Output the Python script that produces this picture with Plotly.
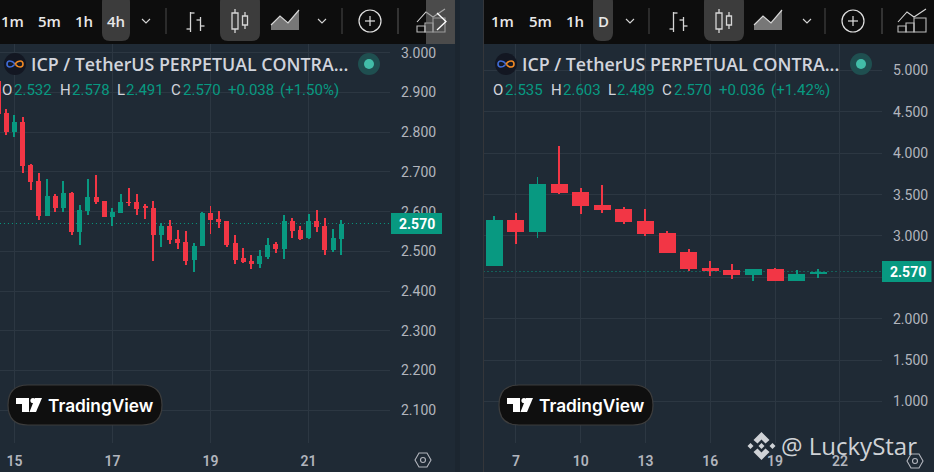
import plotly.graph_objects as go

W, H = 934, 472
BG = "#1f2a35"
GRID = "#2c3742"
GREEN = "#089981"
RED = "#f23645"
AXIS_TXT = "#b2b5bd"
TITLE_TXT = "#d1d4dc"

# ---------- 4h candles ----------
h4_slot = list(range(-2, 41))
h4_open = [2.929, 2.848, 2.801, 2.826, 2.718, 2.677, 2.589, 2.639, 2.609, 2.647, 2.549,
           2.602, 2.637, 2.627, 2.587, 2.597, 2.624, 2.624, 2.612, 2.609, 2.541, 2.564,
           2.531, 2.524, 2.478, 2.513, 2.597, 2.581, 2.576, 2.521, 2.483, 2.476, 2.468,
           2.486, 2.518, 2.506, 2.576, 2.554, 2.534, 2.576, 2.564, 2.503, 2.532]
h4_high = [2.935, 2.859, 2.843, 2.838, 2.720, 2.697, 2.682, 2.644, 2.677, 2.650, 2.617,
           2.682, 2.692, 2.627, 2.609, 2.644, 2.660, 2.644, 2.619, 2.627, 2.571, 2.579,
           2.554, 2.551, 2.521, 2.599, 2.614, 2.602, 2.576, 2.541, 2.508, 2.491, 2.503,
           2.534, 2.523, 2.591, 2.584, 2.564, 2.594, 2.604, 2.584, 2.556, 2.578]
h4_low = [2.840, 2.793, 2.788, 2.697, 2.655, 2.579, 2.589, 2.599, 2.599, 2.541, 2.516,
          2.592, 2.619, 2.587, 2.564, 2.597, 2.614, 2.592, 2.581, 2.476, 2.511, 2.519,
          2.506, 2.466, 2.448, 2.513, 2.544, 2.559, 2.511, 2.468, 2.471, 2.455, 2.458,
          2.481, 2.496, 2.481, 2.534, 2.529, 2.531, 2.549, 2.491, 2.498, 2.491]
h4_close = [2.846, 2.801, 2.826, 2.715, 2.675, 2.589, 2.639, 2.609, 2.647, 2.549, 2.604,
            2.637, 2.624, 2.587, 2.599, 2.624, 2.622, 2.607, 2.610, 2.541, 2.564, 2.529,
            2.521, 2.476, 2.513, 2.597, 2.579, 2.574, 2.516, 2.478, 2.473, 2.468, 2.488,
            2.516, 2.506, 2.576, 2.551, 2.531, 2.576, 2.561, 2.503, 2.534, 2.570]
h4_tick_slots = [0, 12, 24, 36]
h4_tick_labels = ["15", "17", "19", "21"]
h4_price_ticks = [3.0, 2.9, 2.8, 2.7, 2.6, 2.5, 2.4, 2.3, 2.2, 2.1]
h4_price_labels = ["3.000", "2.900", "2.800", "2.700", "2.600", "2.500", "2.400", "2.300", "2.200", "2.100"]

# ---------- daily candles ----------
d_slot = list(range(0, 16))
d_open = [2.637, 3.193, 3.048, 3.629, 3.532, 3.375, 3.326, 3.181, 3.036, 2.806, 2.612, 2.588, 2.528, 2.600, 2.455, 2.535]
d_high = [3.242, 3.278, 3.713, 4.088, 3.580, 3.616, 3.350, 3.326, 3.060, 2.842, 2.697, 2.661, 2.600, 2.612, 2.588, 2.603]
d_low = [2.637, 2.903, 2.976, 3.508, 3.266, 3.278, 3.145, 3.000, 2.794, 2.576, 2.516, 2.479, 2.455, 2.455, 2.455, 2.489]
d_close = [3.193, 3.048, 3.629, 3.520, 3.363, 3.314, 3.169, 3.024, 2.794, 2.601, 2.576, 2.528, 2.600, 2.455, 2.540, 2.570]
d_tick_slots = [1, 4, 7, 10, 13, 16]
d_tick_labels = ["7", "10", "13", "16", "19", "22"]
d_price_ticks = [5.0, 4.5, 4.0, 3.5, 3.0, 2.5, 2.0, 1.5, 1.0]
d_price_labels = ["5.000", "4.500", "4.000", "3.500", "3.000", "2.500", "2.000", "1.500", "1.000"]

last_price = 2.570
last_label = "2.570"


def colors(o, c):
    return [GREEN if b >= a else RED for a, b in zip(o, c)]


def candle_traces(slot, o, hi, lo, c, xa, ya, body_w, wick_w):
    col = colors(o, c)
    wick = go.Bar(x=slot, y=[a - b for a, b in zip(hi, lo)], base=lo, width=wick_w,
                  marker=dict(color=col, line=dict(width=0)), xaxis=xa, yaxis=ya, showlegend=False)
    bot = [min(a, b) for a, b in zip(o, c)]
    body = go.Bar(x=slot, y=[abs(a - b) for a, b in zip(o, c)], base=bot, width=body_w,
                  marker=dict(color=col, line=dict(width=0)), xaxis=xa, yaxis=ya, showlegend=False)
    return [wick, body]


fig = go.Figure()
for tr in candle_traces(h4_slot, h4_open, h4_high, h4_low, h4_close, "x", "y", 5 / 8.17, 1 / 8.17):
    fig.add_trace(tr)
for tr in candle_traces(d_slot, d_open, d_high, d_low, d_close, "x2", "y2", 17 / 21.6, 1 / 21.6):
    fig.add_trace(tr)


# ---------- pixel helpers for chrome ----------
def fx(x):
    return x / W


def fy(y):
    return 1 - y / H


def pth(*cmds):
    out = []
    for c in cmds:
        if isinstance(c, str):
            out.append(c)
        else:
            out.append(f"{fx(c[0]):.5f},{fy(c[1]):.5f}")
    return " ".join(out)


shapes = []
notes = []


def path(d, fill=None, line=None, lw=1.0, layer="above"):
    s = dict(type="path", xref="paper", yref="paper", path=d, layer=layer,
             line=dict(width=lw if line else 0, color=line or "rgba(0,0,0,0)"))
    if fill:
        s["fillcolor"] = fill
    shapes.append(s)


def rect(x0, y0, x1, y1, fill, layer="above", line=None, lw=0):
    shapes.append(dict(type="rect", xref="paper", yref="paper", x0=fx(x0), x1=fx(x1), y0=fy(y0), y1=fy(y1),
                       fillcolor=fill, layer=layer, line=dict(width=lw, color=line or "rgba(0,0,0,0)")))


def circle(cx, cy, r, fill=None, line=None, lw=1.0):
    s = dict(type="circle", xref="paper", yref="paper", x0=fx(cx - r), x1=fx(cx + r), y0=fy(cy - r), y1=fy(cy + r),
             layer="above", line=dict(width=lw if line else 0, color=line or "rgba(0,0,0,0)"))
    if fill:
        s["fillcolor"] = fill
    shapes.append(s)


def rrect(x0, y0, x1, y1, r, fill, line=None, lw=1.0):
    d = pth("M", (x0 + r, y0), "L", (x1 - r, y0), "Q", (x1, y0), (x1, y0 + r), "L", (x1, y1 - r),
            "Q", (x1, y1), (x1 - r, y1), "L", (x0 + r, y1), "Q", (x0, y1), (x0, y1 - r),
            "L", (x0, y0 + r), "Q", (x0, y0), (x0 + r, y0), "Z")
    path(d, fill=fill, line=line, lw=lw)


def text(x, y, s, size=14, color="#ffffff", family="Roboto", anchor="left", weight=None):
    f = dict(size=size, color=color, family=family)
    if weight:
        f["weight"] = weight
    notes.append(dict(xref="paper", yref="paper", x=fx(x), y=fy(y), text=s, showarrow=False, xanchor=anchor,
                      yanchor="middle", font=f, borderpad=0, borderwidth=0))


ICON = "#d6d6d6"


def chevron(cx):
    path(pth("M", (cx - 4, 19), "L", (cx, 23), "L", (cx + 4, 19)), line=ICON, lw=1.1)


def toolbar(x0, x1, timeframes, active, bars_x, candle_x, area_x, chev1, sep1, chev2, sep2, plus_x, sep3, ind_x):
    rect(x0, 0, x1, 44, "#0d0d0d")
    rrect(*active, 8, "#3c3c3c")
    rrect(candle_x - 20, -6, candle_x + 20, 41, 8, "#3c3c3c")
    for tx, lab in timeframes:
        text(tx, 21, lab, size=15, color="#e8e8e8", family="Open Sans", anchor="center", weight=600)
    chevron(chev1)
    chevron(chev2)
    path(pth("M", (bars_x, 12), "L", (bars_x, 32)), line=ICON, lw=1.3)
    path(pth("M", (bars_x, 13), "L", (bars_x + 4, 13)), line=ICON, lw=1.3)
    path(pth("M", (bars_x - 4, 29), "L", (bars_x, 29)), line=ICON, lw=1.3)
    path(pth("M", (bars_x + 10, 17), "L", (bars_x + 10, 31)), line=ICON, lw=1.3)
    path(pth("M", (bars_x + 6, 20), "L", (bars_x + 10, 20)), line=ICON, lw=1.3)
    path(pth("M", (bars_x + 10, 26), "L", (bars_x + 14, 26)), line=ICON, lw=1.3)
    c = candle_x
    path(pth("M", (c - 5, 9), "L", (c - 5, 33)), line=ICON, lw=1.3)
    rect(c - 8, 13, c - 2, 29, "#3c3c3c", line=ICON, lw=1.3)
    path(pth("M", (c + 5, 12), "L", (c + 5, 29)), line=ICON, lw=1.3)
    rect(c + 2.5, 16, c + 7.5, 25, "#3c3c3c", line=ICON, lw=1.3)
    a = area_x
    path(pth("M", (a - 14, 25), "L", (a - 5, 16), "L", (a + 3, 23), "L", (a + 14, 10), "L", (a + 14, 30),
             "L", (a - 14, 30), "Z"), fill="#777777")
    path(pth("M", (a - 14, 25), "L", (a - 5, 16), "L", (a + 3, 23), "L", (a + 14, 10)), line=ICON, lw=1.2)
    rect(sep1 - 0.5, 8, sep1 + 0.5, 34, "#4a4a4a")
    rect(sep2 - 0.5, 8, sep2 + 0.5, 34, "#4a4a4a")
    circle(plus_x, 21, 11, line="#e0e0e0", lw=1.2)
    path(pth("M", (plus_x - 5, 21), "L", (plus_x + 5, 21)), line="#e0e0e0", lw=1.2)
    path(pth("M", (plus_x, 16), "L", (plus_x, 26)), line="#e0e0e0", lw=1.2)
    rect(sep3 - 0.5, 8, sep3 + 0.5, 34, "#5a5a5a")
    i = ind_x
    path(pth("M", (i - 14, 22), "L", (i - 5, 12), "L", (i + 2, 17), "L", (i + 14, 9)), line=ICON, lw=1.1)
    for b0, b1, top in [(i - 14, i - 6, 26), (i - 6, i + 2, 23), (i + 2, i + 14, 18)]:
        rect(b0, top, b1, 32, "rgba(0,0,0,0)", line="#bdbdbd", lw=1.1)


toolbar(0, 455, [(12, "1m"), (49, "5m"), (84, "1h"), (116, "4h")], (102, -6, 130, 41),
        190.5, 240, 285, 146, 166, 322, 342, 370, 398, 431)
path(pth("M", (426, 0), "L", (455, 0), "L", (455, 44), "L", (426, 44), "Z"), fill="rgba(128,128,128,0.55)")
path(pth("M", (437, 13), "L", (446, 21.5), "L", (437, 30)), line="#ffffff", lw=1.3)
toolbar(484, 934, [(503, "1m"), (540, "5m"), (575, "1h"), (603, "D")], (593, -6, 613, 41),
        673.5, 724, 768, 630, 649, 807, 825, 853, 882, 912)
rect(483, 0, 484, 472, "#34363a", layer="below")
rect(455, 0, 460, 472, "#1c2630", layer="below")


def header(x, ox, hx, lx, cx, vals, chg_x, chg, pct_x, pct, dot_x):
    circle(x, 64, 11, fill="#131722")
    path(pth("M", (x, 64), "C", (x - 3, 60), (x - 8, 60), (x - 8, 64), "C", (x - 8, 68), (x - 3, 68), (x, 64)),
         line="#3f6cd8", lw=1.6)
    path(pth("M", (x, 64), "C", (x + 3, 60), (x + 8, 60), (x + 8, 64), "C", (x + 8, 68), (x + 3, 68), (x, 64)),
         line="#f08a24", lw=1.6)
    text(x + 16, 64, "ICP / TetherUS PERPETUAL CONTRA...", size=17.8, color=TITLE_TXT, family="Open Sans", weight=600)
    circle(dot_x, 64, 11, fill="#1f4f50")
    circle(dot_x, 64, 5, fill="#42bda8")
    for lab, px_, val in [("O", ox, vals[0]), ("H", hx, vals[1]), ("L", lx, vals[2]), ("C", cx, vals[3])]:
        text(px_, 90, lab, size=15, color=TITLE_TXT)
        text(px_ + (9 if lab == "L" else 12), 90, val, size=15, color=GREEN)
    text(chg_x, 90, chg, size=15, color=GREEN)
    text(pct_x, 90, pct, size=15, color=GREEN)


header(15, 2, 60, 117, 171, ["2.532", "2.578", "2.491", "2.570"], 228, "+0.038", 280, "(+1.50%)", 369)
header(506, 493, 551, 608, 662, ["2.535", "2.603", "2.489", "2.570"], 719, "+0.036", 771, "(+1.42%)", 861)


def tv_badge(x):
    rrect(x, 385, x + 154, 425, 20, "#0f0f0f", line="#3d3d3d", lw=1.2)
    o = x + 8
    path(pth("M", (o, 398), "L", (o + 13, 398), "L", (o + 13, 412), "L", (o + 6, 412), "L", (o + 6, 404),
             "L", (o, 404), "Z"), fill="#ffffff")
    circle(o + 17, 400.5, 2.6, fill="#ffffff")
    path(pth("M", (o + 19, 398), "L", (o + 26, 398), "L", (o + 20, 412), "L", (o + 13.5, 412), "Z"), fill="#ffffff")
    text(x + 40, 405, "TradingView", size=17.3, color="#ffffff", family="Inter", weight=600)


tv_badge(8)
tv_badge(499)


def hexicon(cx, cy, col):
    r = 8
    path(pth("M", (cx - r, cy), "L", (cx - r / 2, cy - 7), "L", (cx + r / 2, cy - 7), "L", (cx + r, cy),
             "L", (cx + r / 2, cy + 7), "L", (cx - r / 2, cy + 7), "Z"), line=col, lw=1.1)
    circle(cx, cy, 2.5, line=col, lw=1.1)


hexicon(423, 460, AXIS_TXT)
hexicon(915, 461, AXIS_TXT)

# price flags
rect(391, 213, 442, 234, GREEN)
text(417, 224, last_label, size=14, color="#ffffff", anchor="center", weight=700)
rect(882, 261, 931.5, 282, GREEN)
text(908, 271.5, last_label, size=14, color="#ffffff", anchor="center", weight=700)

# watermark
WM = "#cfd2d6"
wx, wy = 761.5, 446
path(pth("M", (wx, wy - 14), "L", (wx + 8, wy - 6), "L", (wx + 4, wy - 2.5), "L", (wx, wy - 6.5), "L", (wx - 4, wy - 2.5),
         "L", (wx - 8, wy - 6), "Z"), fill=WM)
path(pth("M", (wx, wy + 14), "L", (wx + 8, wy + 6), "L", (wx + 4, wy + 2.5), "L", (wx, wy + 6.5), "L", (wx - 4, wy + 2.5),
         "L", (wx - 8, wy + 6), "Z"), fill=WM)
for dx_ in (-11, 11):
    path(pth("M", (wx + dx_ - 3, wy), "L", (wx + dx_, wy - 3), "L", (wx + dx_ + 3, wy), "L", (wx + dx_, wy + 3), "Z"),
         fill=WM)
path(pth("M", (wx - 3, wy), "L", (wx, wy - 3), "L", (wx + 3, wy), "L", (wx, wy + 3), "Z"), fill=WM)
text(781, 445, "@ LuckyStar", size=24, color=WM, family="Open Sans")

# last-price dotted lines, placed on the data axes
shapes.append(dict(type="line", xref="x", yref="y", x0=-1.77, x1=46, y0=last_price, y1=last_price, layer="below",
                   line=dict(color=GREEN, width=1, dash="1px,3px")))
shapes.append(dict(type="line", xref="x2", yref="y2", x0=-0.5, x1=17.95, y0=last_price, y1=last_price, layer="below",
                   line=dict(color=GREEN, width=1, dash="1px,3px")))

TOP, BOT = 44, 443
common_x = dict(showgrid=True, gridcolor=GRID, gridwidth=1, zeroline=False, showline=False, ticks="",
                tickfont=dict(family="Roboto", size=14, color=AXIS_TXT, weight=600), ticklabelstandoff=8, fixedrange=True)
common_y = dict(showgrid=True, gridcolor=GRID, gridwidth=1, zeroline=False, showline=False, ticks="", side="right",
                tickfont=dict(family="Roboto", size=14, color=AXIS_TXT), ticklabelstandoff=10, fixedrange=True)

fig.update_layout(
    width=W, height=H, margin=dict(l=0, r=0, t=0, b=0), autosize=False,
    paper_bgcolor=BG, plot_bgcolor=BG, barmode="overlay", bargap=0, showlegend=False,
    shapes=shapes, annotations=notes,
    xaxis=dict(common_x, domain=[0, 390 / W], range=[-1.763, 45.97], anchor="y",
               tickmode="array", tickvals=h4_tick_slots, ticktext=h4_tick_labels),
    yaxis=dict(common_y, domain=[1 - BOT / H, 1 - TOP / H], range=[2.0171, 3.0222], anchor="x",
               tickmode="array", tickvals=h4_price_ticks, ticktext=h4_price_labels),
    xaxis2=dict(common_x, domain=[484 / W, 882 / W], range=[-0.477, 17.95], anchor="y2",
                tickmode="array", tickvals=d_tick_slots, ticktext=d_tick_labels),
    yaxis2=dict(common_y, domain=[1 - BOT / H, 1 - TOP / H], range=[0.4964, 5.321], anchor="x2",
                tickmode="array", tickvals=d_price_ticks, ticktext=d_price_labels),
)

fig.write_html("out.html", config=dict(displayModeBar=False),
               post_script="document.body.style.margin='0';document.body.style.overflow='hidden';")
